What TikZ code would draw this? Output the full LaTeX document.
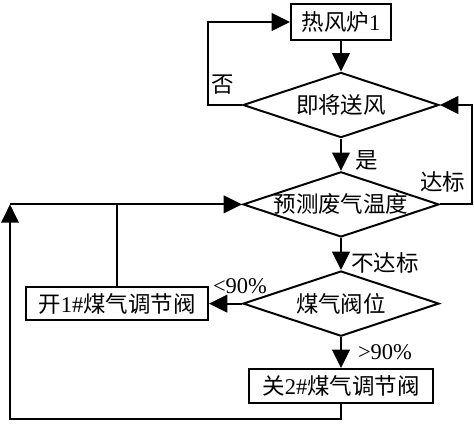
\documentclass[tikz,border=0pt]{standalone}
\usepackage{fontspec}
\setmainfont{Liberation Serif}
\newfontfamily\cjk{Noto Sans CJK SC}
\usetikzlibrary{shapes.geometric, arrows.meta, positioning}
\tikzstyle{arrow} = [line width=1.4pt, -{Triangle[length=13pt, width=12.5pt]}, black]
\tikzstyle{line} = [line width=1.4pt, black]
\newcommand{\dectext}[1]{\makebox[0pt]{\cjk #1}}

\begin{document}
\begin{tikzpicture}[
    procblock/.style={rectangle, draw=black, line width=1.4pt, fill=white, minimum height=0.88cm, inner sep=0pt, font=\fontsize{16}{18}\selectfont},
    decblock/.style={diamond, aspect=3, draw=black, line width=1.4pt, fill=white, inner sep=0pt, minimum width=4.9cm, minimum height=1.63cm, font=\fontsize{16}{18}\selectfont},
    tagtext/.style={inner sep=0pt, font=\fontsize{16}{18}\selectfont},
]
\useasboundingbox (0,0) rectangle (11.85,-10.675);

% Blocks
\node[procblock, minimum width=2.5cm] (stove) at (8.525, -0.55) {{\cjk 热风炉}1};
\node[decblock] (blow) at (8.525, -2.625) {\dectext{即将送风}};
\node[decblock] (temp) at (8.525, -5.11) {\dectext{预测废气温度}};
\node[decblock] (valve) at (8.525, -7.59) {\dectext{煤气阀位}};
\node[procblock, minimum width=4.55cm, minimum height=0.83cm] (open) at (2.925, -7.59) {{\cjk 开}1\#{\cjk 煤气调节阀}};
\node[procblock, minimum width=4.6cm, minimum height=0.85cm] (close) at (8.525, -9.65) {{\cjk 关}2\#{\cjk 煤气调节阀}};

% Corners
\coordinate (noleft) at (5.2, -0.55);
\coordinate (okright) at (11.81, -5.11);
\coordinate (botright) at (8.525, -10.475);
\coordinate (botleft) at (0.25, -10.475);
\coordinate (topleft) at (0.25, -5.11);

% Main flow
\draw[arrow] (stove) -- (blow);
\draw[arrow] (blow) -- (temp);
\draw[arrow] (temp) -- (valve);
\draw[arrow] (valve) -- (close);
\draw[arrow] (valve) -- (open);

% Loops
\draw[arrow] (blow.west) -| (noleft) -- (stove.west);
\draw[arrow] (temp.east) -- (okright) |- (blow.east);
\draw[arrow] (close.south) -- (botright) -- (botleft) -- (topleft);
\draw[arrow] (topleft) -- (temp.west);
\draw[line] (open.north) |- (topleft);

% Labels
\node[tagtext] (no) at (5.575, -2.125) {\cjk 否};
\node[tagtext] (yes) at (9.175, -4.0) {\cjk 是};
\node[tagtext] (ok) at (11.075, -4.55) {\cjk 达标};
\node[tagtext] (notok) at (9.625, -6.575) {\cjk 不达标};
\node[tagtext] (low) at (6.0, -7.15) {<90\%};
\node[tagtext] (high) at (9.625, -8.8) {>90\%};

\end{tikzpicture}
\end{document}
